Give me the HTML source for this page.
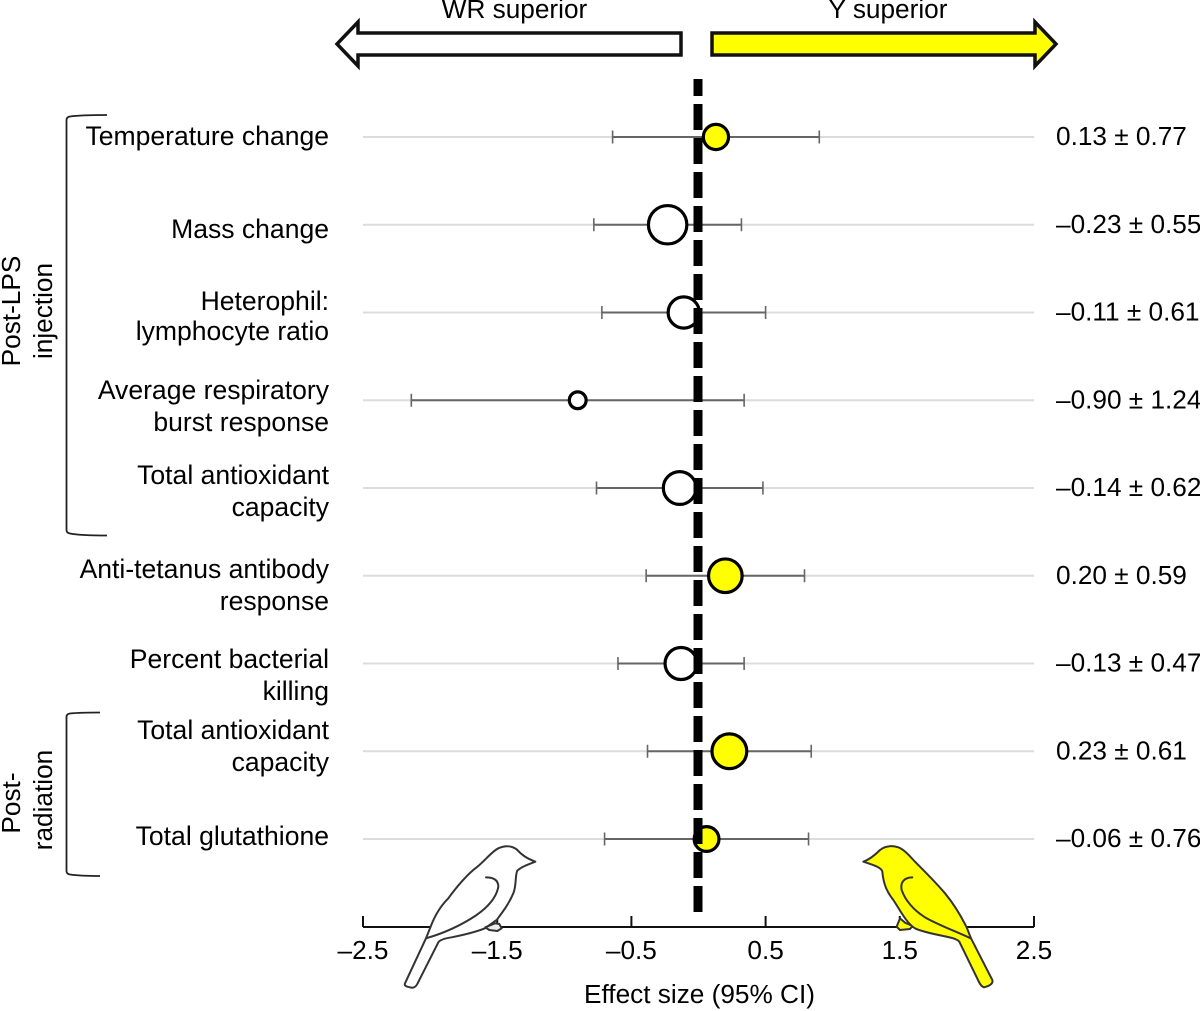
<!DOCTYPE html>
<html lang="en">
<head>
<meta charset="utf-8">
<title>Effect size forest plot</title>
<style>
html,body{margin:0;padding:0;background:#fff;width:1200px;height:1011px;overflow:hidden}
svg{display:block}
text{font-family:"Liberation Sans",sans-serif;font-size:26.2px;fill:#000}
.lab{text-anchor:end;font-size:26.55px}
</style>
</head>
<body>
<svg id="chart" xmlns="http://www.w3.org/2000/svg" width="1200" height="1011" viewBox="0 0 1200 1011">
  <g>
    <text x="514.5" y="18" text-anchor="middle">WR superior</text>
    <text x="888" y="18" text-anchor="middle">Y superior</text>
    <polygon points="681,33 358,33 358,22 337,44 358,66 358,55 681,55" fill="#fff" stroke="#111" stroke-width="3.5"/>
    <polygon points="712,33 1035,33 1035,22 1056,44 1035,66 1035,55 712,55" fill="#ffff00" stroke="#111" stroke-width="3.5"/>
  </g>

  <g id="row-lines"></g>
  <g id="intervals"></g>
  <g id="points"></g>
  <line id="zero-line" y1="79" y2="912" stroke="#000" stroke-width="9" stroke-dasharray="26 8" stroke-dashoffset="9"/>

  <g>
    <text class="lab" x="329" y="145">Temperature change</text>
    <text class="lab" x="329" y="238">Mass change</text>
    <text class="lab" x="329" y="310">Heterophil:</text>
    <text class="lab" x="329" y="340">lymphocyte ratio</text>
    <text class="lab" x="329" y="399">Average respiratory</text>
    <text class="lab" x="329" y="431">burst response</text>
    <text class="lab" x="329" y="484">Total antioxidant</text>
    <text class="lab" x="329" y="516">capacity</text>
    <text class="lab" x="329" y="578">Anti-tetanus antibody</text>
    <text class="lab" x="329" y="610">response</text>
    <text class="lab" x="329" y="668">Percent bacterial</text>
    <text class="lab" x="329" y="700">killing</text>
    <text class="lab" x="329" y="739">Total antioxidant</text>
    <text class="lab" x="329" y="771">capacity</text>
    <text class="lab" x="329" y="845">Total glutathione</text>
  </g>

  <g id="printed-values"></g>

  <g>
    <text transform="translate(20,311) rotate(-90)" text-anchor="middle">Post-LPS</text>
    <text transform="translate(52,311) rotate(-90)" text-anchor="middle">injection</text>
    <text transform="translate(20,803) rotate(-90)" text-anchor="middle">Post-</text>
    <text transform="translate(52,800) rotate(-90)" text-anchor="middle">radiation</text>
    <path d="M107,115 Q80,115 70,116.5 Q66.5,117 66.5,120 L66.5,530 Q66.5,533 70,533.5 Q80,535.5 107,535.5" fill="none" stroke="#222" stroke-width="1.8"/>
    <path d="M100,712.5 Q80,712.5 70,713.5 Q66.5,714 66.5,717 L66.5,871 Q66.5,874 70,874.5 Q80,876 100,876" fill="none" stroke="#222" stroke-width="1.8"/>
  </g>

  <g id="x-axis"></g>
  <text x="699.5" y="1003" text-anchor="middle">Effect size (95% CI)</text>

  <g transform="translate(380,830) scale(0.3333)" stroke="#333" stroke-width="6" stroke-linejoin="round" stroke-linecap="round">
    <path fill="#fff" d="M75,460 L138,325 L152,290 C165,255 185,225 205,205 C230,170 265,130 290,112 C315,92 335,65 355,55 C375,46 395,47 410,58 C425,75 440,85 466,95 C445,103 425,110 412,122 C405,135 410,165 400,190 C385,225 365,250 350,270 L315,295 C290,305 250,315 215,322 C195,325 180,330 175,337 L112,462 C108,470 100,476 90,472 C80,470 72,468 75,460 Z"/>
    <path fill="none" d="M138,325 C190,310 245,285 290,255 C325,230 350,200 355,170 C355,150 340,142 318,142"/>
    <path fill="#eee" d="M316,292 L345,280 L358,282 L365,295 L352,303 L328,300 Z"/>
  </g>
  <g transform="translate(850,830) scale(0.3333)" stroke="#333" stroke-width="6" stroke-linejoin="round" stroke-linecap="round">
    <path fill="#ffff00" d="M150,265 L140,290 L150,300 L180,297 L188,288 L165,278 Z"/>
    <path fill="#ffff00" d="M40,95 C60,88 75,75 90,60 C105,48 125,46 145,52 C165,60 180,80 195,95 C225,125 260,160 285,190 C310,220 335,262 350,292 L363,325 L427,450 C430,460 420,468 402,472 C395,470 392,465 388,458 L328,335 C320,326 300,322 280,318 C250,312 215,305 195,295 C170,280 150,240 130,210 C110,185 100,160 97,125 C95,112 70,105 40,95 Z"/>
    <path fill="none" d="M362,325 C320,305 265,285 225,262 C190,240 165,210 155,180 C150,155 165,142 187,142"/>
  </g>
</svg>

<script>
// ---- chart data ----
const categories = ['Temperature change', 'Mass change', 'Heterophil: lymphocyte ratio', 'Average respiratory burst response', 'Total antioxidant capacity', 'Anti-tetanus antibody response', 'Percent bacterial killing', 'Total antioxidant capacity (post-radiation)', 'Total glutathione'];
const effectSizes = [0.13, -0.23, -0.11, -0.90, -0.14, 0.20, -0.13, 0.23, 0.06];
const ciHalfWidths = [0.77, 0.55, 0.61, 1.24, 0.62, 0.59, 0.47, 0.61, 0.76];
const pointWeights = [0.63, 0.96, 0.78, 0.42, 0.82, 0.84, 0.8, 0.87, 0.62];
const printedValues = ['0.13 ± 0.77', '–0.23 ± 0.55', '–0.11 ± 0.61', '–0.90 ± 1.24', '–0.14 ± 0.62', '0.20 ± 0.59', '–0.13 ± 0.47', '0.23 ± 0.61', '–0.06 ± 0.76'];
const pointGroups = ['Y', 'WR', 'WR', 'WR', 'WR', 'Y', 'WR', 'Y', 'Y'];
const tickValues = [-2.5, -1.5, -0.5, 0.5, 1.5, 2.5];
const tickLabels = ['–2.5', '–1.5', '–0.5', '0.5', '1.5', '2.5'];

// ---- axis functions ----
const SVG_NS = 'http://www.w3.org/2000/svg';
const X_MIN = -2.5, X_MAX = 2.5, X_LEFT = 363, X_RIGHT = 1034;
const ROW_TOP = 137, ROW_STEP = 87.75, AXIS_Y = 927;
function xScale(v) { return X_LEFT + (v - X_MIN) / (X_MAX - X_MIN) * (X_RIGHT - X_LEFT); }
function yScale(i) { return ROW_TOP + i * ROW_STEP; }
function rScale(w) { return w * 20; }
function slug(s) { return s.toLowerCase().replace(/[^a-z0-9]+/g, '-').replace(/^-|-$/g, ''); }
function make(tag, attrs, parent) {
  const el = document.createElementNS(SVG_NS, tag);
  for (const k in attrs) el.setAttribute(k, attrs[k]);
  parent.appendChild(el);
  return el;
}

const rowLines = document.getElementById('row-lines');
const intervals = document.getElementById('intervals');
const points = document.getElementById('points');
const printed = document.getElementById('printed-values');
const xAxis = document.getElementById('x-axis');

const zero = document.getElementById('zero-line');
zero.setAttribute('x1', xScale(0) - 0.5);
zero.setAttribute('x2', xScale(0) - 0.5);

categories.forEach(function (name, i) {
  const y = yScale(i);
  const key = slug(name);

  const guide = make('line', { x1: X_LEFT, x2: X_RIGHT, y1: y, y2: y, stroke: '#dcdcdc', 'stroke-width': 2 }, rowLines);
  
  

  const lo = xScale(effectSizes[i] - ciHalfWidths[i]);
  const hi = xScale(effectSizes[i] + ciHalfWidths[i]);
  const ci = make('g', { stroke: '#666', fill: 'none' }, intervals);
  
  
  make('line', { x1: lo, x2: hi, y1: y, y2: y, 'stroke-width': 2 }, ci);
  make('line', { x1: lo, x2: lo, y1: y - 6.5, y2: y + 6.5, 'stroke-width': 1.6 }, ci);
  make('line', { x1: hi, x2: hi, y1: y - 6.5, y2: y + 6.5, 'stroke-width': 1.6 }, ci);

  const dot = make('circle', {
    cx: xScale(effectSizes[i]), cy: y, r: rScale(pointWeights[i]),
    fill: pointGroups[i] === 'Y' ? '#ffff00' : '#ffffff', stroke: '#000', 'stroke-width': 3.2
  }, points);
  
  

  const val = make('text', { x: 1056, y: y + 8 }, printed);
  val.textContent = printedValues[i];
  
  
});

const axisLine = make('line', { x1: X_LEFT, x2: X_RIGHT, y1: AXIS_Y, y2: AXIS_Y, stroke: '#111', 'stroke-width': 2 }, xAxis);



tickValues.forEach(function (v, i) {
  const x = xScale(v);
  const tick = make('line', { x1: x, x2: x, y1: AXIS_Y - 11, y2: AXIS_Y, stroke: '#111', 'stroke-width': 2 }, xAxis);
  
  
  const label = make('text', { x: x, y: 959, 'text-anchor': 'middle' }, xAxis);
  label.textContent = tickLabels[i];
  
  
});
</script>
</body>
</html>
